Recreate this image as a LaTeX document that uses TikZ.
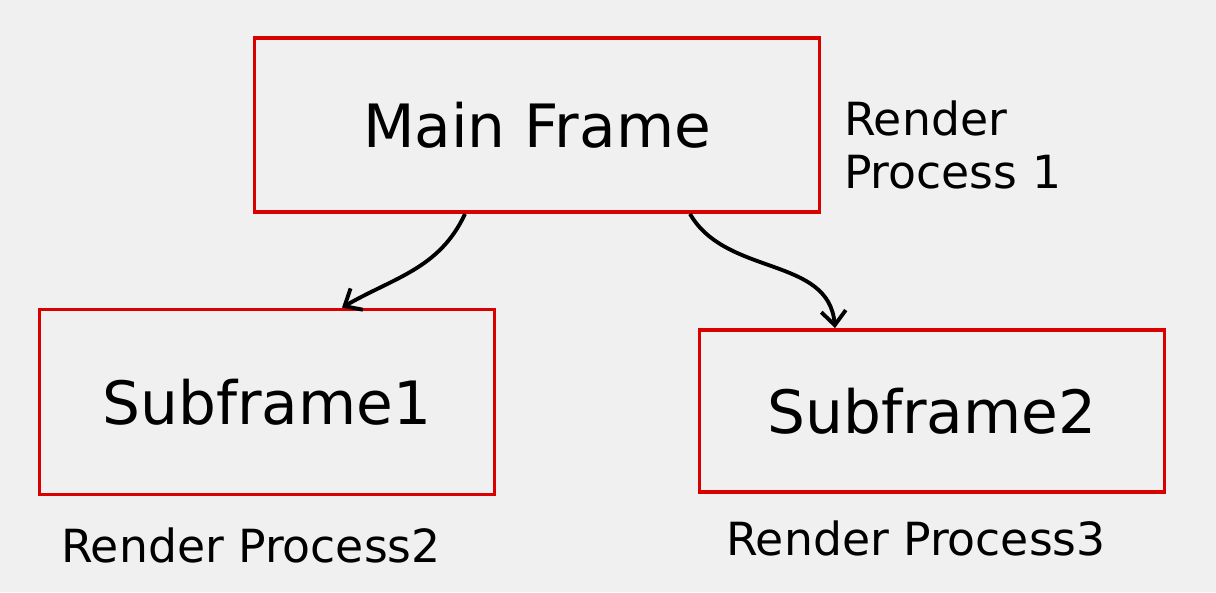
\documentclass[tikz,border=0pt]{standalone}
\usepackage{fontspec}
\setmainfont{DejaVu Sans}
\usetikzlibrary{arrows.meta}
\begin{document}
\begin{tikzpicture}[x=0.02cm,y=-0.02cm,
  box/.style={draw=red!85!black,line width=2.2pt,line cap=round},
  lbl/.style={font=\fontsize{26}{30}\selectfont,align=left},
  big/.style={font=\fontsize{34}{38}\selectfont},
  arr/.style={draw=black,line width=2.2pt,-{Straight Barb[length=8pt,width=14pt]}}]
\fill[gray!12] (0,0) rectangle (1216,592);
\useasboundingbox (0,0) rectangle (1216,592);
\node[box,minimum width=565*0.02cm,minimum height=174*0.02cm] (main) at (537,125) {};
\node[big] at (main) {Main Frame};
\node[box,minimum width=455*0.02cm,minimum height=185*0.02cm] (s1) at (267,402) {};
\node[big] at (s1) {Subframe1};
\node[box,minimum width=465*0.02cm,minimum height=162*0.02cm] (s2) at (932,411) {};
\node[big] at (s2) {Subframe2};
\node[lbl,anchor=west] (r1) at (838,145) {Render\\Process 1};
\node[lbl,anchor=west] (r2) at (55,545) {Render Process2};
\node[lbl,anchor=west] (r3) at (720,538) {Render Process3};
\draw[arr] ([xshift=-72*0.02cm]main.south) to[out=-115,in=30] ([xshift=75*0.02cm]s1.north);
\draw[arr] ([xshift=153*0.02cm]main.south) to[out=-60,in=95] ([xshift=-97*0.02cm]s2.north);
\end{tikzpicture}
\end{document}
